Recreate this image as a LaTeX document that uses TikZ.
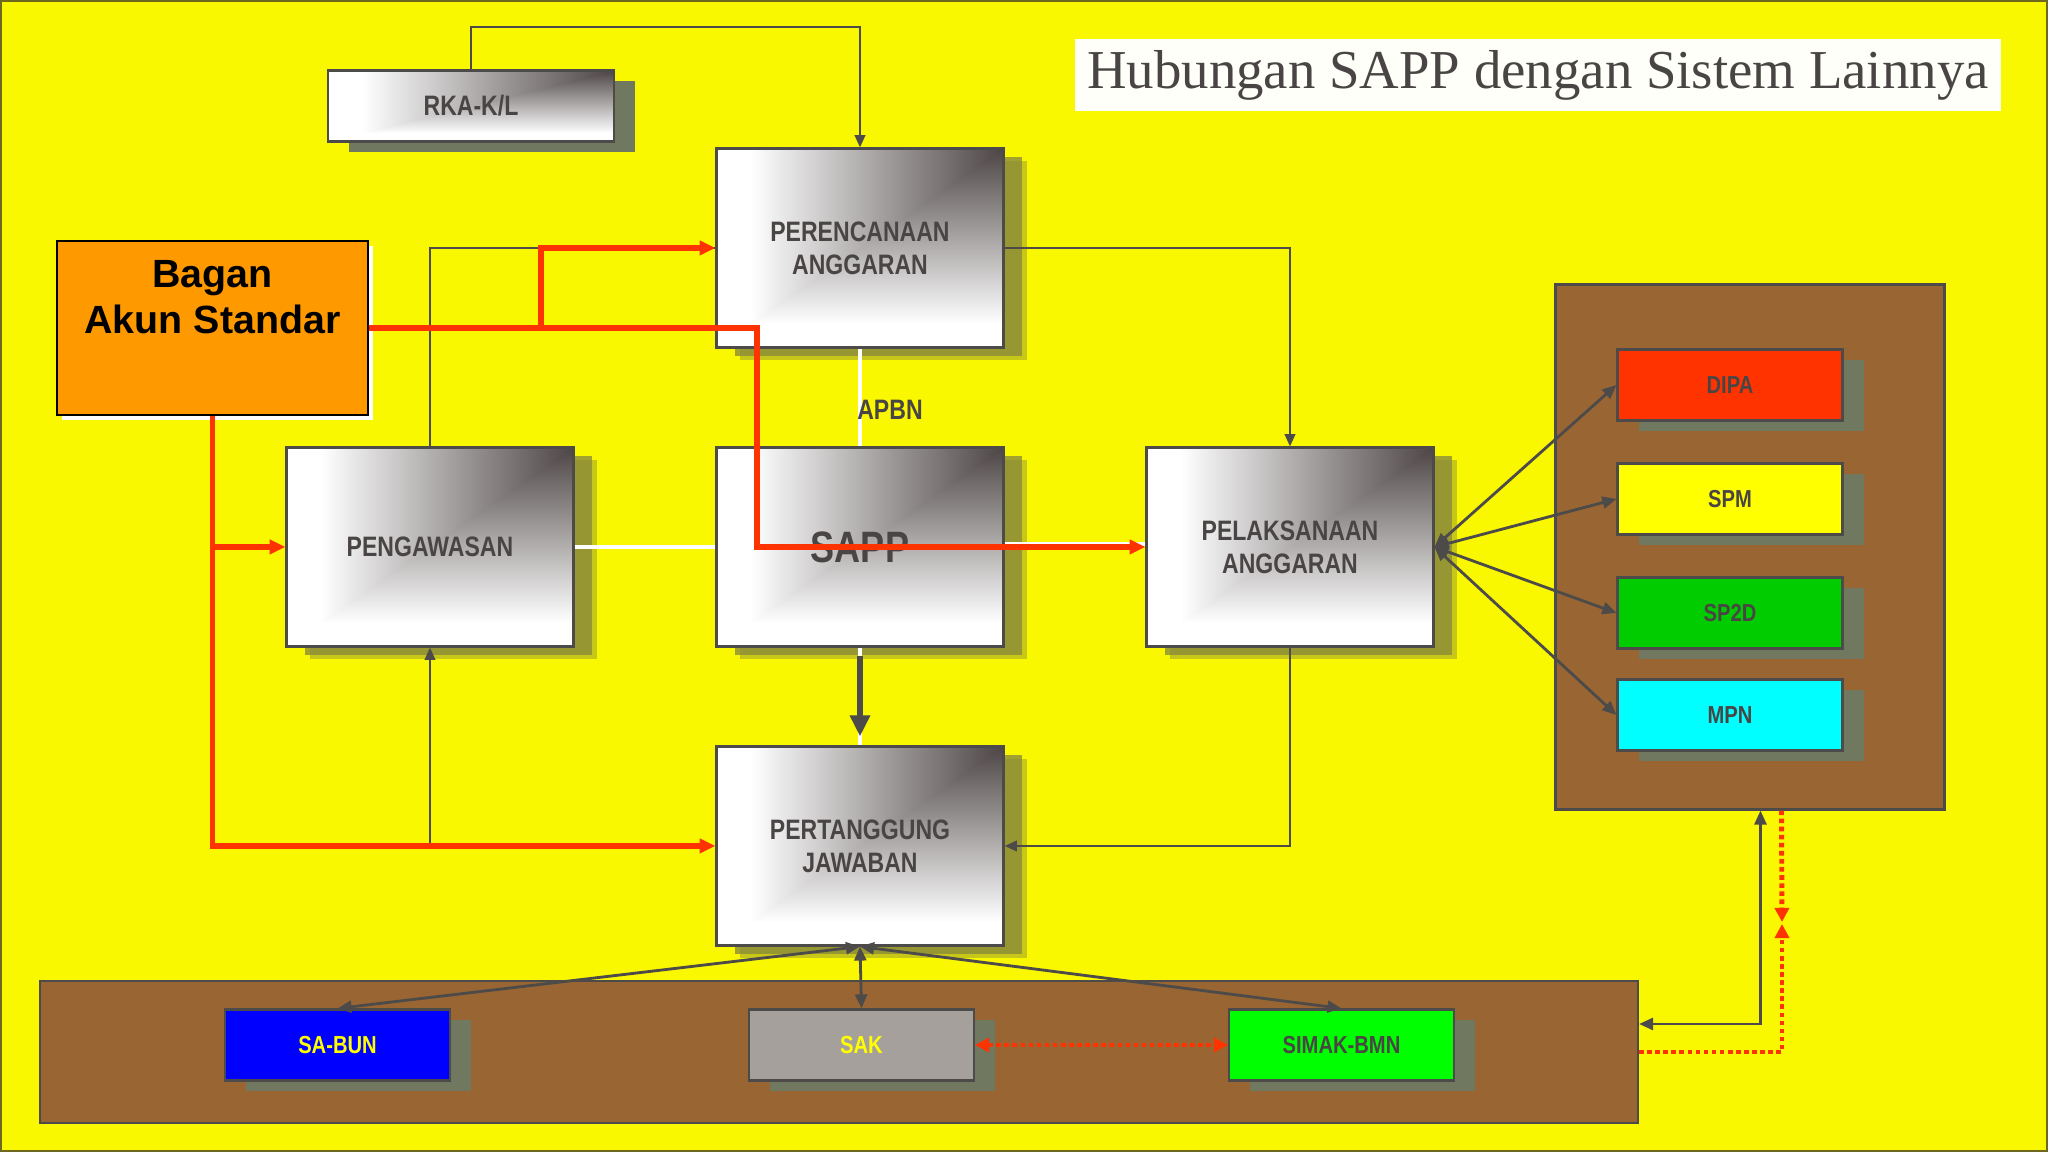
\documentclass[tikz,border=0pt]{standalone}
\usepackage{fontspec}
\setmainfont{Liberation Serif}
\newfontfamily\narrowfont[FakeStretch=0.82]{Liberation Sans Bold}
\newfontfamily\headfont{Liberation Sans Bold}
\usetikzlibrary{arrows.meta,shadows}
\definecolor{SlideYellow}{RGB}{250,248,0}
\definecolor{FrameOlive}{RGB}{110,105,30}
\definecolor{PanelBrown}{RGB}{153,102,51}
\definecolor{LineGray}{RGB}{77,74,74}
\definecolor{TextGray}{RGB}{74,69,69}
\definecolor{BoxDark}{RGB}{78,70,70}
\definecolor{FlowRed}{RGB}{255,51,0}
\definecolor{AkunOrange}{RGB}{255,153,0}
\definecolor{ShadowGreen}{RGB}{112,120,96}
\definecolor{ShadowOlive}{RGB}{138,140,58}
\definecolor{TitleWhite}{RGB}{255,255,250}
\definecolor{DipaRed}{RGB}{255,51,0}
\definecolor{SpmYellow}{RGB}{255,255,0}
\definecolor{SpdGreen}{RGB}{0,204,0}
\definecolor{MpnCyan}{RGB}{0,255,255}
\definecolor{BunBlue}{RGB}{0,0,255}
\definecolor{SakGray}{RGB}{165,160,156}
\definecolor{SimakGreen}{RGB}{0,255,0}
\pgfdeclarehorizontalshading{fadeleft}{100bp}{color(0bp)=(white); color(31bp)=(white);
  color(75bp)=(BoxDark); color(100bp)=(BoxDark)}
\pgfdeclareverticalshading{fadedown}{100bp}{color(0bp)=(white); color(31bp)=(white);
  color(75bp)=(BoxDark); color(100bp)=(BoxDark)}
\tikzset{
  cornershade/.style={fill=white, path picture={
    \shade[shading=fadedown] (path picture bounding box.south west)
      rectangle (path picture bounding box.north east);
    \clip (path picture bounding box.north west) -- (path picture bounding box.north east)
      -- (path picture bounding box.south west) -- cycle;
    \shade[shading=fadeleft] (path picture bounding box.south west)
      rectangle (path picture bounding box.north east);
  }},
  gradbox/.style={draw=LineGray, line width=0.6pt, inner sep=0pt, align=center,
    text=TextGray, font=\narrowfont\fontsize{8}{9.4}\selectfont, cornershade},
  stage/.style={gradbox, minimum width=2.87cm, minimum height=1.99cm,
    drop shadow={shadow xshift=0.23cm, shadow yshift=-0.13cm, fill=ShadowOlive, opacity=0.45},
    drop shadow={shadow xshift=0.18cm, shadow yshift=-0.09cm, fill=ShadowOlive, opacity=0.8}},
  subsys/.style={draw=LineGray, line width=0.6pt, minimum width=2.25cm, minimum height=0.71cm,
    inner sep=0pt, text=TextGray, font=\narrowfont\fontsize{7}{8}\selectfont,
    drop shadow={shadow xshift=0.21cm, shadow yshift=-0.11cm, fill=ShadowGreen, opacity=1}},
  panel/.style={draw=LineGray, line width=0.6pt, fill=PanelBrown, inner sep=0pt},
  conn/.style={draw=LineGray, line width=0.6pt, -{Triangle[length=3.5pt,width=3pt]}},
  bothway/.style={draw=LineGray, line width=0.8pt,
    {Triangle[length=4pt,width=3.4pt]}-{Triangle[length=4pt,width=3.4pt]}},
  flow/.style={draw=FlowRed, line width=1.5pt, -{Triangle[length=4.5pt,width=4pt]}},
  dotflow/.style={draw=FlowRed, line width=1.4pt, dash pattern=on 1.3pt off 1pt},
  blank/.style={draw=white, line width=1.3pt}
}
\begin{document}
\begin{tikzpicture}
\useasboundingbox (0,0) rectangle (20.48,11.52);
\fill[SlideYellow] (0,0) rectangle (20.48,11.52);
\draw[line width=0.8pt,draw=FrameOlive] (0.01,0.01) rectangle (20.47,11.51);

\node[panel,minimum width=3.89cm,minimum height=5.25cm] (side) at (17.50,6.05) {};
\node[panel,minimum width=15.98cm,minimum height=1.42cm] (bottom) at (8.39,1.00) {};
\node[fill=TitleWhite,minimum width=9.26cm,minimum height=0.72cm,inner sep=0pt,
    text=TextGray,font=\fontsize{15.6}{18}\selectfont] (title) at (15.38,10.77)
    {Hubungan SAPP dengan Sistem Lainnya};

\node[gradbox,minimum width=2.86cm,minimum height=0.71cm,
    drop shadow={shadow xshift=0.21cm,shadow yshift=-0.11cm,fill=ShadowGreen,opacity=1}]
    (rka) at (4.71,10.46) {RKA-K/L};
\node[stage] (perenc) at (8.60,9.04) {PERENCANAAN\\ANGGARAN};
\node[stage] (pengaw) at (4.30,6.05) {PENGAWASAN};
\node[stage,font=\narrowfont\fontsize{12.5}{14}\selectfont] (sapp) at (8.60,6.05) {SAPP};
\node[stage] (pelaks) at (12.90,6.05) {PELAKSANAAN\\ANGGARAN};
\node[stage] (pertang) at (8.60,3.06) {PERTANGGUNG\\JAWABAN};

\node[draw=black,line width=0.8pt,fill=AkunOrange,minimum width=3.11cm,minimum height=1.74cm,
    drop shadow={shadow xshift=0.05cm,shadow yshift=-0.05cm,fill=white,opacity=1}]
    (bagan) at (2.125,8.24) {};
\node[font=\headfont\fontsize{11.2}{13}\selectfont,align=center] (bagantext)
    at (2.125,8.55) {Bagan\\Akun Standar};

\node[subsys,fill=DipaRed] (dipa) at (17.30,7.67) {DIPA};
\node[subsys,fill=SpmYellow] (spm) at (17.30,6.53) {SPM};
\node[subsys,fill=SpdGreen] (spd) at (17.30,5.39) {SP2D};
\node[subsys,fill=MpnCyan] (mpn) at (17.30,4.37) {MPN};

\node[subsys,fill=BunBlue,text=SpmYellow] (sabun) at (3.375,1.07) {SA-BUN};
\node[subsys,fill=SakGray,text=SpmYellow] (sak) at (8.615,1.07) {SAK};
\node[subsys,fill=SimakGreen] (simak) at (13.415,1.07) {SIMAK-BMN};

\draw[blank] (perenc.south) -- (sapp.north);
\draw[blank] (pengaw.east) -- (sapp.west);
\draw[blank] ([yshift=0.03cm]sapp.east) -- ([yshift=0.03cm]pelaks.west);
\draw[blank] (sapp.south) -- (pertang.north);
\node[font=\narrowfont\fontsize{8}{9}\selectfont,text=TextGray] (apbn) at (8.90,7.42) {APBN};

\draw[conn] (rka.north) -- ++(0,0.42) -| (perenc.north);
\draw[conn] (perenc.east) -| (pelaks.north);
\draw[LineGray,line width=0.6pt] (pengaw.north) |- (perenc.west);
\draw[conn] (pengaw.south |- pertang.west) -- (pengaw.south);
\draw[conn] (pelaks.south) |- (pertang.east);
\draw[LineGray,line width=1.5pt,-{Triangle[length=6pt,width=5.5pt]}]
    ([yshift=-0.08cm]sapp.south) -- ([yshift=0.09cm]pertang.north);

\draw[bothway] (pelaks.east) -- (dipa.west);
\draw[bothway] (pelaks.east) -- (spm.west);
\draw[bothway] (pelaks.east) -- (spd.west);
\draw[bothway] (pelaks.east) -- (mpn.west);

\draw[bothway] (pertang.south) -- (sabun.north);
\draw[bothway] (pertang.south) -- (sak.north);
\draw[bothway] (pertang.south) -- (simak.north);
\draw[bothway] ([yshift=0.28cm]bottom.east) -| ([xshift=0.105cm]side.south);

\coordinate (split) at (5.41,8.24);
\draw[flow] (bagan.east) -- (7.57,8.24) |- (pelaks.west);
\draw[flow] (split) |- (perenc.west);
\draw[flow] (bagan.south) |- (pertang.west);
\draw[flow] (bagan.south |- pengaw.west) -- (pengaw.west);

\coordinate (meet) at (17.82,2.29);
\draw[dotflow,-{Triangle[length=4pt,width=4pt]}] ([xshift=0.315cm]side.south) -- ([yshift=0.01cm]meet);
\draw[dotflow,-{Triangle[length=4pt,width=4pt]}] (bottom.east) -| ([yshift=-0.01cm]meet);
\draw[dotflow,{Triangle[length=4pt,width=4pt]}-{Triangle[length=4pt,width=4pt]}] (sak.east) -- (simak.west);
\end{tikzpicture}
\end{document}
